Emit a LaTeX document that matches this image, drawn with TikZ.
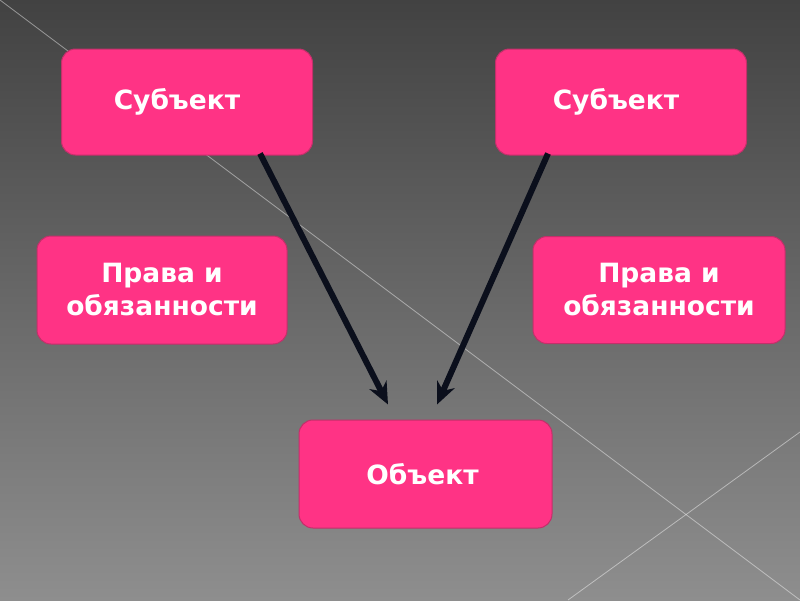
\documentclass[tikz,border=0pt]{standalone}
\usepackage{fontspec}
\setmainfont{DejaVu Sans}
\usetikzlibrary{arrows.meta,calc}
\definecolor{bgtop}{HTML}{424242}
\definecolor{bgbot}{HTML}{8E8E8E}
\definecolor{boxfill}{HTML}{FF3385}
\definecolor{boxedge}{HTML}{C2306A}
\definecolor{arrowcol}{HTML}{0B0F1C}
\tikzset{
  x=1pt,y=-1pt,
  pinkbox/.style={draw=boxedge,line width=1pt,fill=boxfill,rounded corners=14pt,
    minimum width=251pt,minimum height=106pt,inner sep=0pt,
    text=white,font=\bfseries\fontsize{26.5}{33}\selectfont,align=center},
  linkarrow/.style={draw=arrowcol,line width=6pt,-{Stealth[length=22pt,width=19pt,inset=7pt]}},
  bgline/.style={draw=white,draw opacity=0.45,line width=0.8pt}
}
\begin{document}
\begin{tikzpicture}
\shade[top color=bgtop,bottom color=bgbot] (0,0) rectangle (800,600);
\useasboundingbox (0,0) rectangle (800,600);
\draw[bgline] (0,0) -- (800,600);
\draw[bgline] (568,600) -- (800,432);
\node[pinkbox] (subjL) at (187,102) {\hspace*{-20pt}Субъект};
\node[pinkbox] (subjR) at (621,102) {\hspace*{-10pt}Субъект};
\node[pinkbox,minimum width=250pt,minimum height=108pt] (pravL) at (162,290) {Права и\\обязанности};
\node[pinkbox,minimum width=252pt,minimum height=107pt] (pravR) at (659,290) {Права и\\обязанности};
\node[pinkbox,minimum width=253pt,minimum height=108pt] (obj) at (425.5,474) {\hspace*{-6pt}Объект};
\coordinate (srcL) at ($(subjL.south)+(73,-2)$);
\coordinate (srcR) at ($(subjR.south)+(-73,-2)$);
\coordinate (tipL) at ($(obj.north)+(-37.5,-15)$);
\coordinate (tipR) at ($(obj.north)+(11.5,-15)$);
\draw[linkarrow] (srcL) -- (tipL);
\draw[linkarrow] (srcR) -- (tipR);
\end{tikzpicture}
\end{document}
